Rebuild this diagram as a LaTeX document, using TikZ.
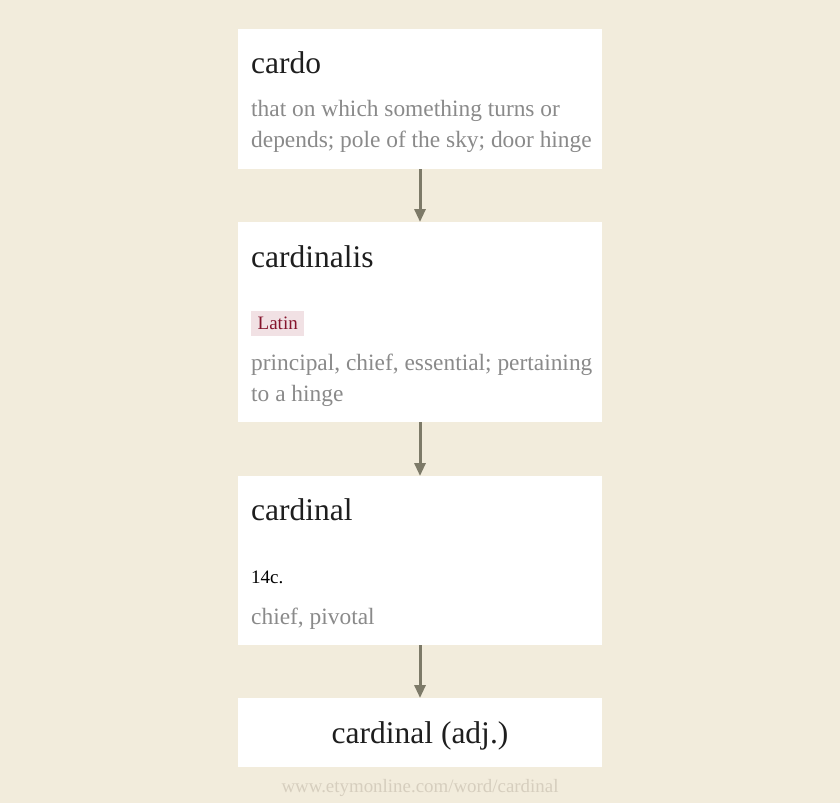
\documentclass[tikz,border=0pt]{standalone}
\usepackage{fontspec}
\setmainfont{Liberation Serif}
\usetikzlibrary{arrows.meta}
\definecolor{bg}{HTML}{F2ECDC}
\definecolor{gloss}{HTML}{8A8A8A}
\definecolor{word}{HTML}{1E1E1E}
\definecolor{arr}{HTML}{7D7A68}
\definecolor{tagbg}{HTML}{F1E1E4}
\definecolor{tagfg}{HTML}{85142C}
\definecolor{foot}{HTML}{D6CEBE}
\tikzset{
  box/.style={fill=white, draw=none, anchor=north west, minimum width=364pt, inner sep=0pt, outer sep=0pt},
  hw/.style={anchor=base west, inner sep=0pt, text=word, font=\fontsize{31.5}{35}\selectfont},
  gl/.style={anchor=base west, inner sep=0pt, text=gloss, font=\fontsize{23.4}{31}\selectfont, align=left},
  tag/.style={anchor=base west, fill=tagbg, text=tagfg, inner xsep=6.5pt, inner ysep=0pt, text height=18pt, text depth=7pt, font=\fontsize{19}{21}\selectfont},
  date/.style={anchor=base west, inner sep=0pt, text=black, font=\fontsize{19}{21}\selectfont},
  link/.style={draw=arr, line width=3pt, -{Triangle[length=13pt,width=11pt]}},
}
\begin{document}
\begin{tikzpicture}[x=1pt,y=-1pt]
\fill[bg] (0,0) rectangle (840,803);
\useasboundingbox (0,0) rectangle (840,803);
\node[box, minimum height=140pt] (b1) at (238,29) {};
\node[box, minimum height=200pt] (b2) at (238,222) {};
\node[box, minimum height=169pt] (b3) at (238,476) {};
\node[box, minimum height=69pt] (b4) at (238,698) {};
\node[hw] (t1) at (251,73) {cardo};
\node[gl] (g1a) at (251,116) {that on which something turns or};
\node[gl] (g1b) at (251,147) {depends; pole of the sky; door hinge};
\node[hw] (t2) at (251,267) {cardinalis};
\node[tag] (lat) at (251,329) {Latin};
\node[gl] (g2a) at (251,370) {principal, chief, essential; pertaining};
\node[gl] (g2b) at (251,401) {to a hinge};
\node[hw] (t3) at (251,520) {cardinal};
\node[date] (d3) at (251,583) {14c.};
\node[gl] (g3) at (251,624) {chief, pivotal};
\node[hw, anchor=base] (t4) at (420,743) {cardinal (adj.)};
\node[anchor=base, inner sep=0pt, text=foot, font=\fontsize{18.9}{21}\selectfont] (ft) at (420,792) {www.etymonline.com/word/cardinal};
\draw[link] (b1.south) -- (b2.north);
\draw[link] (b2.south) -- (b3.north);
\draw[link] (b3.south) -- (b4.north);
\end{tikzpicture}
\end{document}
